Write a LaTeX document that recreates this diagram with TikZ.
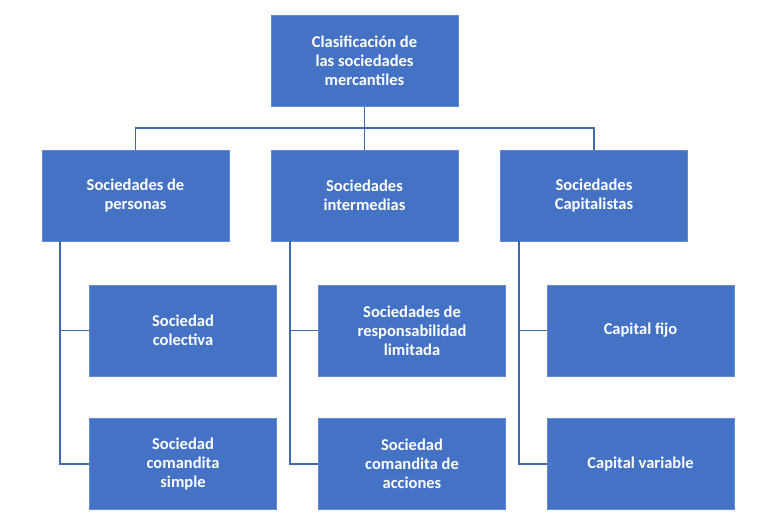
\documentclass[tikz,border=0pt]{standalone}
\usepackage{fontspec}
\setmainfont{Carlito}
\usetikzlibrary{positioning}
\definecolor{boxblue}{RGB}{68, 114, 196}
\definecolor{boxedge}{RGB}{99, 137, 206}
\definecolor{linkblue}{RGB}{66, 103, 172}

\begin{document}
\begin{tikzpicture}[
    x=1pt, y=-1pt,
    class/.style={
        rectangle,
        draw=boxedge,
        fill=boxblue,
        text=white,
        font=\fontsize{16.5}{19}\selectfont\bfseries,
        minimum width=187pt,
        minimum height=91pt,
        align=center,
        inner sep=2pt
    },
    link/.style={
        draw=linkblue,
        line width=1.2pt
    }
]
\useasboundingbox (0,0) rectangle (768,527);

% Root node
\node[class] (root) at (364.5,61) {Clasificación de\\las sociedades\\mercantiles};

% Second level
\node[class] (personas) at (135.5,195.5) {Sociedades de\\personas};
\node[class] (intermedias) at (364.5,195.5) {Sociedades\\intermedias};
\node[class] (capitalistas) at (594,195.5) {Sociedades\\Capitalistas};

% Third level
\node[class] (colectiva) at (183,330.5) {Sociedad\\colectiva};
\node[class] (simple) at (183,464) {Sociedad\\comandita\\simple};
\node[class] (limitada) at (412,330.5) {Sociedades de\\responsabilidad\\limitada};
\node[class] (acciones) at (412,464) {Sociedad\\comandita de\\acciones};
\node[class] (fijo) at (640.5,330.5) {Capital fijo};
\node[class] (variable) at (640.5,464) {Capital variable};

% Connectors from root
\coordinate (bus) at (0,128);
\draw[link] (root.south) -- (root.south |- bus);
\draw[link] (personas.north) |- (capitalistas.north |- bus) -- (capitalistas.north);
\draw[link] (intermedias.north) -- (intermedias.north |- bus);

% Connectors to children
\foreach \parent/\first/\second/\xx in {personas/colectiva/simple/60,
    intermedias/limitada/acciones/290, capitalistas/fijo/variable/519} {
    \draw[link] (\xx,241) |- (\second.west);
    \draw[link] (\xx,330.5) -- (\first.west);
}

\end{tikzpicture}
\end{document}
